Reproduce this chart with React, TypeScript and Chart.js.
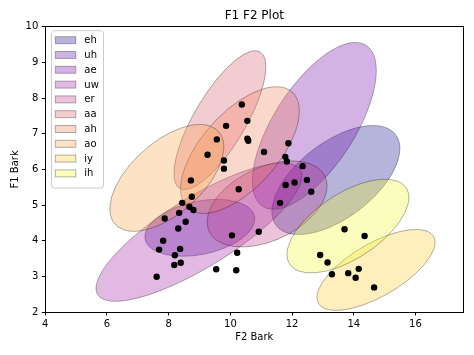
import React, { useEffect, useRef } from 'react';
import { Chart, registerables } from 'chart.js';

Chart.register(...registerables);

const FONT = "'DejaVu Sans', 'Liberation Sans', sans-serif";

// Vowel categories (legend order) and their plasma colours
const categories = ['eh', 'uh', 'ae', 'uw', 'er', 'aa', 'ah', 'ao', 'iy', 'ih'];
const colors = ['#0d0887', '#4903a0', '#7201a8', '#9c179e', '#bd3786', '#d8576b', '#ed7953', '#fb9f3a', '#fdca26', '#f0f921'];

// Ellipse parameters in data units (F2 Bark, F1 Bark)
const ellipseCenterX = [13.42, 9.01, 12.72, 8.98, 11.19, 9.66, 10.31, 7.94, 14.72, 13.81];
const ellipseCenterY = [5.70, 4.36, 7.22, 4.24, 5.03, 7.38, 6.54, 5.76, 3.18, 4.41];
const ellipseWidth = [4.65, 3.61, 5.64, 7.45, 4.07, 4.63, 4.71, 4.26, 4.18, 4.35];
const ellipseHeight = [2.23, 1.50, 2.50, 2.03, 2.10, 1.61, 2.29, 2.12, 1.53, 1.90];
const ellipseAngle = [30.9, 9.6, 51.5, 27.5, 20, 54.7, 41.3, 35, 25.6, 27.7];

// Token points
const pointX = [10.37, 10.55, 9.86, 9.56, 10.55, 10.58, 9.26, 9.79, 9.79, 11.09, 11.88, 11.78, 11.83, 12.34, 8.72, 10.27, 12.08, 11.79, 12.48, 12.62, 11.61, 8.75, 8.44, 8.67, 8.80, 8.34, 7.87, 8.55, 8.31, 7.82, 7.69, 8.37, 8.20, 8.39, 8.18, 7.61, 9.54, 10.19, 10.05, 10.22, 10.92, 13.70, 14.35, 12.91, 13.15, 13.29, 13.82, 14.16, 14.06, 14.66];
const pointY = [7.82, 7.36, 7.22, 6.84, 6.86, 6.80, 6.41, 6.25, 6.02, 6.49, 6.73, 6.35, 6.22, 6.09, 5.69, 5.44, 5.63, 5.56, 5.70, 5.37, 5.06, 5.23, 5.06, 4.95, 4.86, 4.78, 4.62, 4.53, 4.34, 4.00, 3.75, 3.77, 3.59, 3.38, 3.32, 2.99, 3.20, 3.17, 4.15, 3.66, 4.25, 4.32, 4.13, 3.60, 3.39, 3.06, 3.09, 3.21, 2.96, 2.69];

const xMin = 4;
const xMax = 17.55;
const yMin = 2;
const yMax = 10;

function rgba(hex: string, a: number) {
  const n = parseInt(hex.slice(1), 16);
  return `rgba(${(n >> 16) & 255},${(n >> 8) & 255},${n & 255},${a})`;
}

const align = (v: number) => Math.round(v - 0.5) + 0.5;

export default function App() {
  const ref = useRef<HTMLCanvasElement | null>(null);

  useEffect(() => {
    if (!ref.current) return;

    const ellipsePlugin = {
      id: 'ellipses',
      beforeDatasetsDraw(chart: any) {
        const { ctx, chartArea: ca, scales } = chart;
        const xs = scales.x;
        const ys = scales.y;
        ctx.save();
        ctx.beginPath();
        ctx.rect(ca.left, ca.top, ca.right - ca.left, ca.bottom - ca.top);
        ctx.clip();
        categories.forEach((_c, i) => {
          const cx = xs.getPixelForValue(ellipseCenterX[i]);
          const cy = ys.getPixelForValue(ellipseCenterY[i]);
          const sx = xs.getPixelForValue(ellipseCenterX[i] + 1) - cx;
          const sy = ys.getPixelForValue(ellipseCenterY[i] + 1) - cy;
          ctx.save();
          ctx.translate(cx, cy);
          ctx.scale(sx, sy);
          ctx.rotate((ellipseAngle[i] * Math.PI) / 180);
          ctx.beginPath();
          ctx.ellipse(0, 0, ellipseWidth[i] / 2, ellipseHeight[i] / 2, 0, 0, Math.PI * 2);
          ctx.restore();
          ctx.fillStyle = rgba(colors[i], 0.3);
          ctx.fill();
          ctx.strokeStyle = 'rgba(0,0,0,0.3)';
          ctx.lineWidth = 1;
          ctx.stroke();
        });
        ctx.restore();
      },
    };

    const framePlugin = {
      id: 'frameLegend',
      afterDatasetsDraw(chart: any) {
        const { ctx, chartArea: ca } = chart;
        ctx.save();
        // axes frame
        ctx.strokeStyle = '#000';
        ctx.lineWidth = 1;
        const l = align(ca.left), r = align(ca.right), t = align(ca.top), b = align(ca.bottom);
        ctx.strokeRect(l, t, r - l, b - t);

        // legend
        const fx = ca.left + 6.2;
        const fy = ca.top + 4;
        const fw = 52;
        const fh = 157.3;
        ctx.beginPath();
        ctx.roundRect(fx, fy, fw, fh, 3);
        ctx.fillStyle = 'rgba(255,255,255,0.8)';
        ctx.fill();
        ctx.strokeStyle = '#cccccc';
        ctx.stroke();
        ctx.font = `10px ${FONT}`;
        ctx.textBaseline = 'middle';
        ctx.textAlign = 'left';
        categories.forEach((c, i) => {
          const cy = ca.top + 13.5 + i * 14.8;
          const sx = ca.left + 10;
          ctx.fillStyle = '#fff';
          ctx.fillRect(sx, cy - 3.5, 20.5, 7);
          ctx.fillStyle = rgba(colors[i], 0.3);
          ctx.fillRect(sx, cy - 3.5, 20.5, 7);
          ctx.strokeStyle = 'rgba(0,0,0,0.3)';
          ctx.strokeRect(sx, cy - 3.5, 20.5, 7);
          ctx.fillStyle = '#000';
          ctx.fillText(c, ca.left + 39, cy + 0.5);
        });
        ctx.restore();
      },
    };

    const points = pointX.map((x, i) => ({ x, y: pointY[i] }));

    const chart = new Chart(ref.current, {
      type: 'scatter',
      data: {
        datasets: [
          {
            label: 'tokens',
            data: points,
            backgroundColor: '#000',
            borderColor: '#000',
            pointRadius: 3.2,
            pointBorderWidth: 0,
          },
        ],
      },
      options: {
        responsive: false,
        animation: false,
        devicePixelRatio: 1,
        layout: { padding: { left: 0, top: 0, right: 10.7, bottom: 0 } },
        plugins: {
          legend: { display: false },
          tooltip: { enabled: false },
          title: {
            display: true,
            text: 'F1 F2 Plot',
            fullSize: false,
            color: '#000',
            font: { family: FONT, size: 12, weight: 'normal' },
            padding: { top: 8.5, bottom: 3.8 },
          },
        },
        scales: {
          x: {
            type: 'linear',
            min: xMin,
            max: xMax,
            afterFit: (s: any) => {
              s.height = 43;
            },
            border: { display: false },
            grid: {
              display: true,
              drawOnChartArea: false,
              drawTicks: true,
              tickLength: 3.5,
              color: '#000',
              tickColor: '#000',
            },
            ticks: {
              stepSize: 2,
              includeBounds: false,
              padding: 2.5,
              color: '#000',
              font: { family: FONT, size: 10 },
              maxRotation: 0,
            },
            title: {
              display: true,
              text: 'F2 Bark',
              color: '#000',
              font: { family: FONT, size: 10 },
              padding: { top: 0, bottom: 11.3 },
            },
          },
          y: {
            type: 'linear',
            min: yMin,
            max: yMax,
            afterFit: (s: any) => {
              s.width = 45.3;
            },
            border: { display: false },
            grid: {
              display: true,
              drawOnChartArea: false,
              drawTicks: true,
              tickLength: 3.5,
              color: '#000',
              tickColor: '#000',
            },
            ticks: {
              stepSize: 1,
              includeBounds: false,
              padding: 3.5,
              color: '#000',
              font: { family: FONT, size: 10 },
            },
            title: {
              display: true,
              text: 'F1 Bark',
              color: '#000',
              font: { family: FONT, size: 10 },
              padding: { top: 9, bottom: 0 },
            },
          },
        },
      },
      plugins: [ellipsePlugin, framePlugin],
    } as any);

    return () => chart.destroy();
  }, []);

  return (
    <div style={{ position: 'absolute', left: 0, top: 0, width: 474, height: 355, background: '#fff' }}>
      <canvas ref={ref} width={474} height={355} style={{ display: 'block', width: 474, height: 355 }} />
    </div>
  );
}
